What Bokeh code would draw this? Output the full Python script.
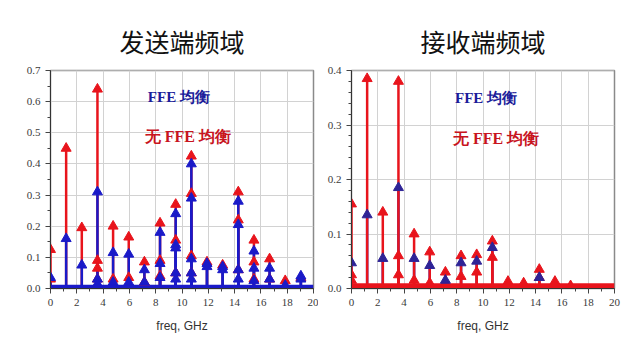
from bokeh.plotting import figure
from bokeh.layouts import row
from bokeh.models import Range1d, Label, SingleIntervalTicker, NumeralTickFormatter, ColumnDataSource
from bokeh.embed import file_html
from bokeh.resources import INLINE

# ---------------- data ----------------
titles = ["发送端频域", "接收端频域"]
legend_ffe = "FFE 均衡"
legend_noffe = "无 FFE 均衡"
x_label = "freq, GHz"

# transmitter side (left)
tx_red_freq = [0, 0, 1.19, 2.38, 3.57, 3.57, 3.57, 3.57, 4.76, 4.76, 5.95, 5.95, 7.14, 7.14,
               8.33, 8.33, 8.33, 9.52, 9.52, 9.52, 10.71, 10.71, 10.71, 10.71, 11.9, 13.09,
               14.28, 14.28, 14.28, 15.47, 15.47, 15.47, 16.66, 16.66, 17.85, 19.04]
tx_red_val = [0.125, 0.03, 0.45, 0.195, 0.64, 0.09, 0.065, 0.03, 0.2, 0.03, 0.165, 0.035, 0.085, 0.02,
              0.21, 0.09, 0.04, 0.27, 0.155, 0.05, 0.425, 0.305, 0.105, 0.05, 0.085, 0.075,
              0.31, 0.22, 0.06, 0.155, 0.085, 0.03, 0.095, 0.03, 0.025, 0.035]
tx_blue_freq = [0, 1.19, 2.38, 3.57, 3.57, 3.57, 4.76, 4.76, 5.95, 5.95, 7.14, 7.14,
                8.33, 8.33, 8.33, 9.52, 9.52, 9.52, 9.52, 9.52, 10.71, 10.71, 10.71, 10.71, 10.71,
                11.9, 11.9, 13.09, 13.09, 14.28, 14.28, 14.28, 14.28, 15.47, 15.47, 15.47,
                16.66, 16.66, 17.85, 19.04, 19.04]
tx_blue_val = [0.035, 0.16, 0.075, 0.31, 0.03, 0.015, 0.115, 0.02, 0.11, 0.02, 0.06, 0.02,
               0.18, 0.08, 0.035, 0.24, 0.14, 0.13, 0.05, 0.03, 0.40, 0.29, 0.095, 0.05, 0.03,
               0.08, 0.07, 0.07, 0.06, 0.28, 0.205, 0.06, 0.03, 0.12, 0.065, 0.025,
               0.065, 0.03, 0.01, 0.04, 0.03]

# receiver side (right)
rx_red_freq = [0, 0, 0, 1.19, 2.38, 3.57, 3.57, 3.57, 4.76, 4.76, 5.95, 5.95, 7.14, 7.14,
               8.33, 8.33, 9.52, 9.52, 10.71, 10.71, 11.9, 13.09, 14.28, 14.28, 15.47, 16.66]
rx_red_val = [0.155, 0.025, 0.015, 0.385, 0.14, 0.38, 0.06, 0.025, 0.10, 0.015, 0.067, 0.01, 0.03, 0.01,
              0.06, 0.022, 0.062, 0.03, 0.087, 0.057, 0.013, 0.01, 0.035, 0.02, 0.013, 0.005]
rx_blue_freq = [0, 1.19, 2.38, 3.57, 4.76, 5.95, 7.14, 8.33, 9.52, 10.71, 14.28]
rx_blue_val = [0.047, 0.135, 0.055, 0.185, 0.055, 0.042, 0.015, 0.047, 0.05, 0.075, 0.02]

# noise floor
floor_freq = [0, 20]
tx_floor = [0.004, 0.004]
rx_floor = [0.005, 0.005]

RED = "#e8141c"
BLUE = "#1a1ac8"
BLUE_DARK = "#2e2396"


def make_fig(title, ymax, minor_n, red_f, red_v, blue_f, blue_v, floor_v, floor_color,
             red_on_top, blue_marker, borders, lab_ffe, lab_noffe):
    left, right, bottom = borders
    p = figure(width=318, height=352, output_backend="svg", toolbar_location=None,
               x_range=Range1d(0, 20), y_range=Range1d(0, ymax + 1e-6),
               min_border_left=left, min_border_right=right, min_border_top=70,
               min_border_bottom=bottom)
    p.title.text = title
    p.title.align = "center"
    p.title.text_font = "Noto Sans CJK SC"
    p.title.text_font_style = "normal"
    p.title.text_font_size = "25px"
    p.title.text_color = "#111111"
    p.title.standoff = 24

    p.xaxis.ticker = SingleIntervalTicker(interval=2, num_minor_ticks=2)
    p.yaxis.ticker = SingleIntervalTicker(interval=0.1, num_minor_ticks=minor_n)
    p.yaxis.formatter = NumeralTickFormatter(format="0.0")
    for ax in (p.xaxis[0], p.yaxis[0]):
        ax.major_label_text_font = "Liberation Sans Narrow"
        ax.major_label_text_font_size = "11px"
        ax.major_label_text_color = "#3a3a3a"
        ax.axis_line_color = "#333333"
        ax.major_tick_line_color = "#444444"
        ax.minor_tick_line_color = "#444444"
        ax.major_tick_out = 5
        ax.major_tick_in = 0
        ax.minor_tick_out = 3
        ax.minor_tick_in = 0
    p.xaxis.axis_label = x_label
    p.xaxis.axis_label_text_font = "Liberation Sans"
    p.xaxis.axis_label_text_font_style = "normal"
    p.xaxis.axis_label_text_font_size = "12px"
    p.xaxis.axis_label_text_color = "#333333"
    p.xaxis.axis_label_standoff = 10

    p.xgrid.grid_line_color = "#d2d2d2"
    p.ygrid.grid_line_color = "#d2d2d2"
    p.outline_line_color = "#8a8a8a"
    p.outline_line_width = 1.5

    rsrc = ColumnDataSource(dict(f=red_f, v=red_v))
    bsrc = ColumnDataSource(dict(f=blue_f, v=blue_v))

    if red_on_top:
        p.segment(x0="f", y0=0, x1="f", y1="v", source=bsrc, line_color=BLUE, line_width=2.5)
        p.segment(x0="f", y0=0, x1="f", y1="v", source=rsrc, line_color=RED, line_width=2.5)
    else:
        p.segment(x0="f", y0=0, x1="f", y1="v", source=rsrc, line_color=RED, line_width=2.5)
        p.segment(x0="f", y0=0, x1="f", y1="v", source=bsrc, line_color=BLUE, line_width=2.5)
    p.line(floor_freq, floor_v, line_color=floor_color, line_width=5)
    p.scatter("f", "v", source=rsrc, marker="triangle", size=10, color=RED)
    p.scatter("f", "v", source=bsrc, marker="triangle", size=10, color=blue_marker)

    p.add_layout(Label(x=lab_ffe[0], y=lab_ffe[1], text=legend_ffe, text_color="#1c1c9a",
                       text_font="Liberation Serif", text_font_style="bold",
                       text_font_size="15px", text_baseline="middle"))
    p.add_layout(Label(x=lab_noffe[0], y=lab_noffe[1], text=legend_noffe, text_color="#c8141e",
                       text_font="Liberation Serif", text_font_style="bold",
                       text_font_size="16px", text_baseline="middle"))
    return p


p1 = make_fig(titles[0], 0.7, 2, tx_red_freq, tx_red_val, tx_blue_freq, tx_blue_val,
              tx_floor, BLUE, False, BLUE, (50, 5, 61), (7.4, 0.614), (7.17, 0.487))
p2 = make_fig(titles[1], 0.4, 5, rx_red_freq, rx_red_val, rx_blue_freq, rx_blue_val,
              rx_floor, RED, True, BLUE_DARK, (33, 22, 64), (7.87, 0.350), (7.71, 0.275))

layout = row(p1, p2)
open("out.html", "w").write(file_html(layout, INLINE))
